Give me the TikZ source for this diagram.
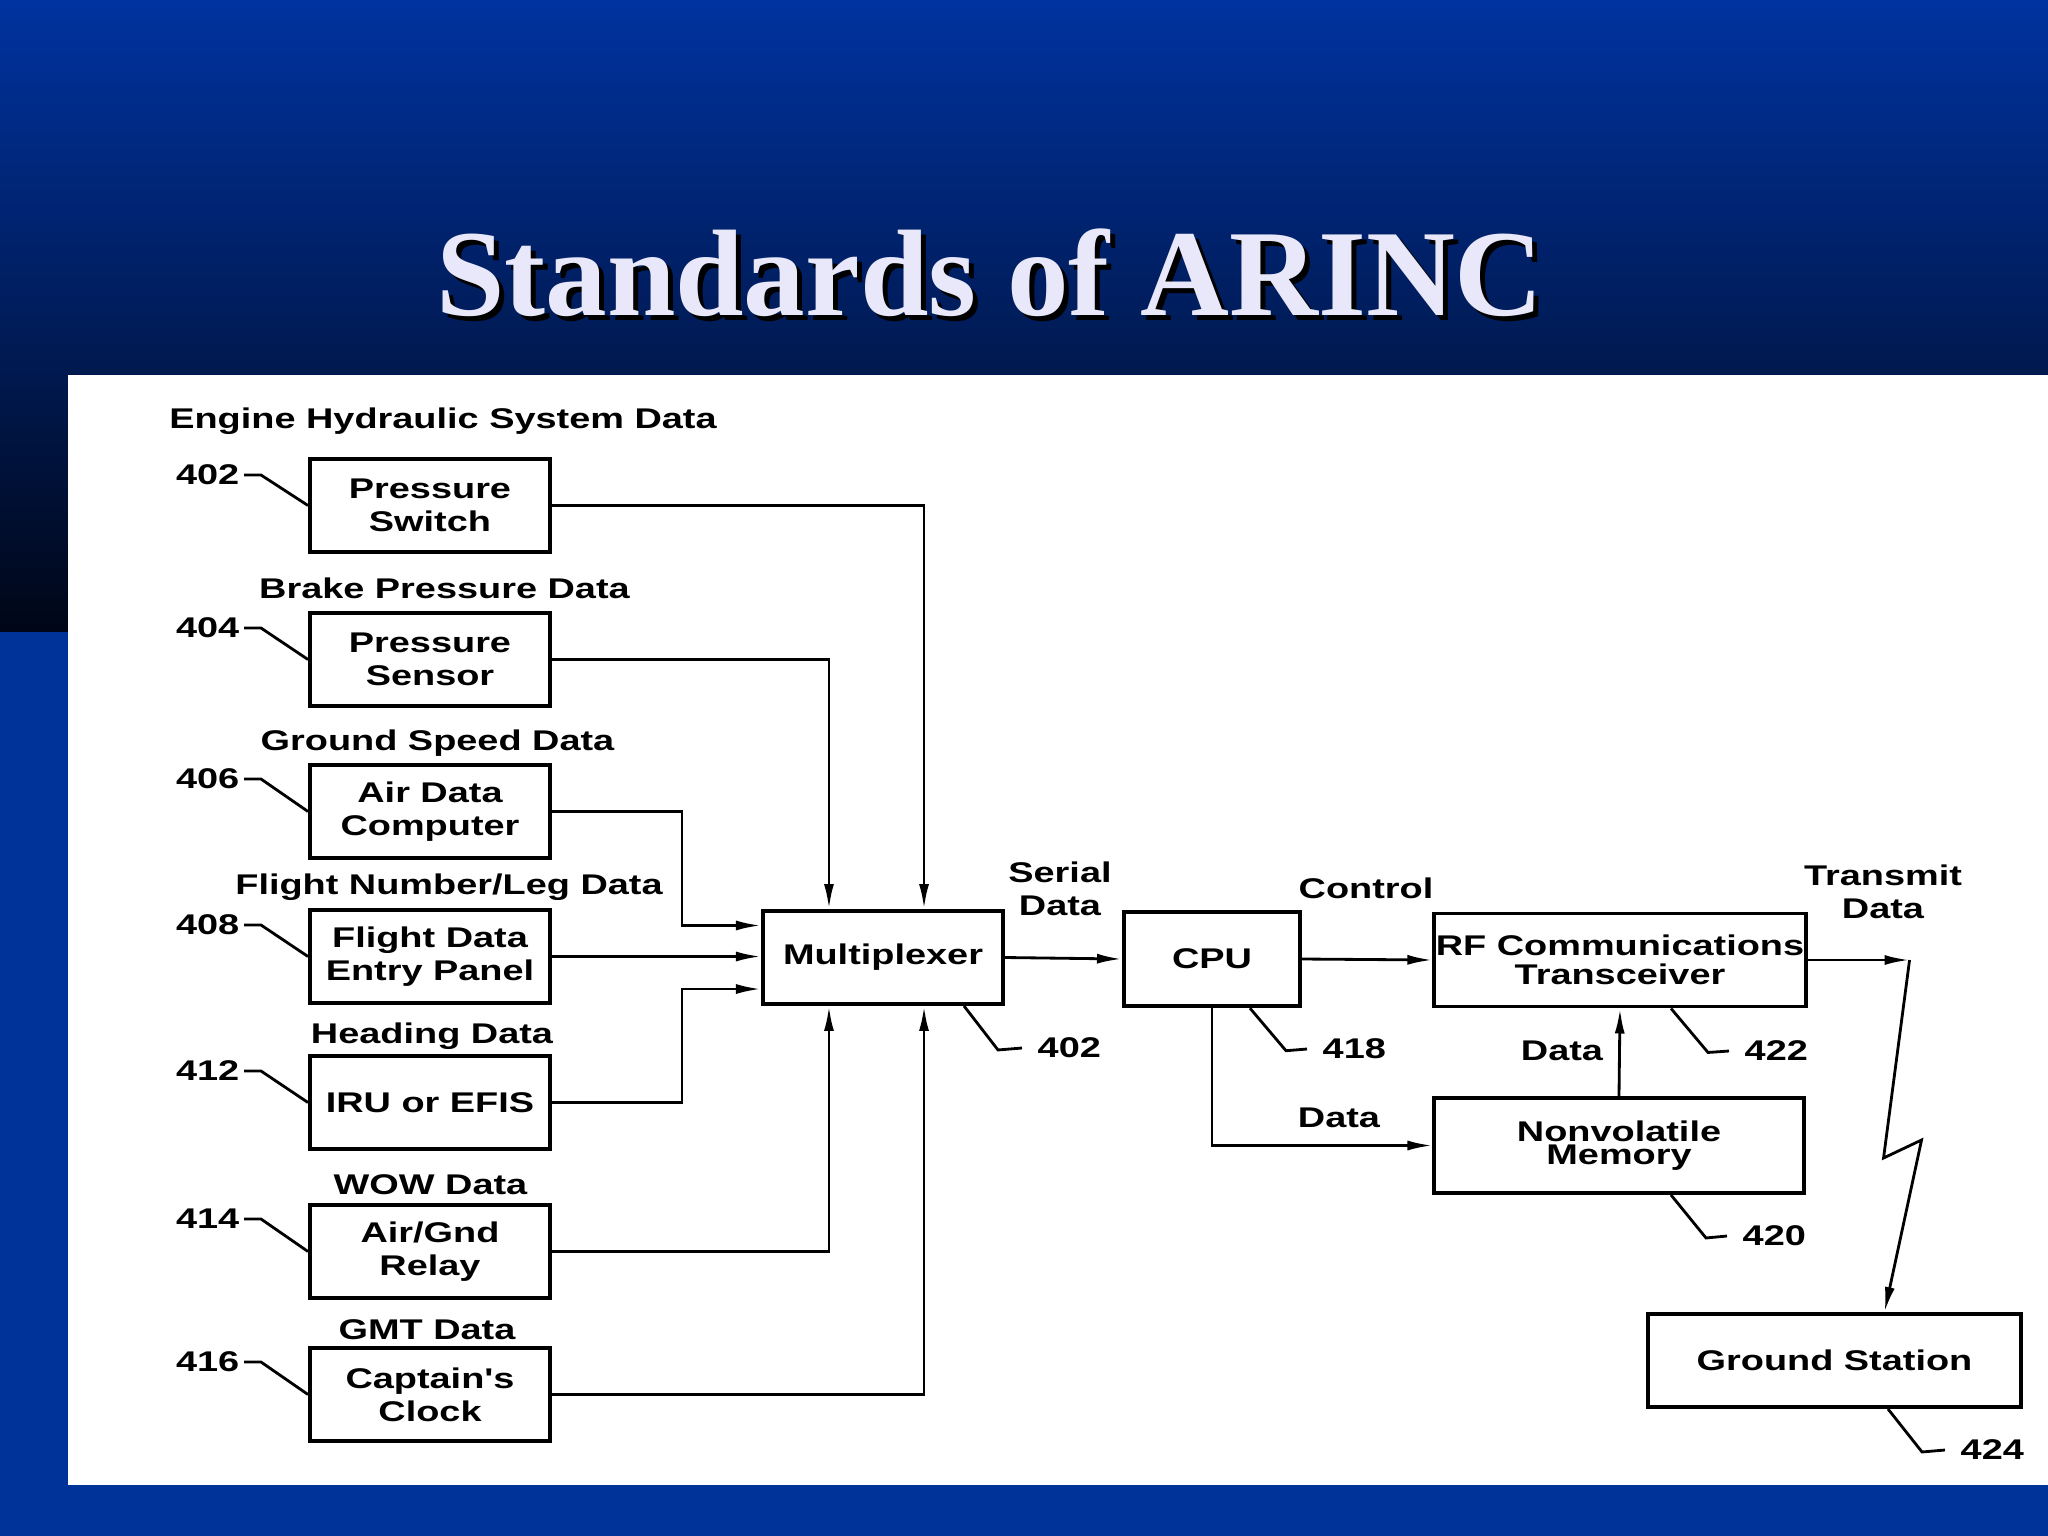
\documentclass[tikz,border=0pt]{standalone}
\usepackage{fontspec}
\setmainfont{Liberation Sans}
\newfontfamily\diafont[FakeStretch=1.33]{Liberation Sans Bold}
\newfontfamily\titlefont{Liberation Serif}
\usetikzlibrary{arrows.meta,positioning,calc}
\definecolor{slideblue}{RGB}{0,51,160}
\definecolor{deepnavy}{RGB}{0,6,22}
\definecolor{barblue}{RGB}{0,51,153}
\definecolor{titlewhite}{RGB}{232,232,250}
\begin{document}
\begin{tikzpicture}[
  x=0.01cm, y=-0.01cm,
  blk/.style={draw, line width=1.1pt, inner sep=0pt, align=center, font=\diafont\fontsize{8.1}{9.4}\selectfont, minimum height=0.93cm},
  src/.style={blk, minimum width=2.4cm},
  lbl/.style={inner sep=0pt, align=center, font=\diafont\fontsize{8.1}{9.4}\selectfont},
  refl/.style={lbl, anchor=east, inner xsep=0.04cm},
  refr/.style={lbl, anchor=west, inner xsep=0.15cm},
  lead/.style={line width=0.8pt},
  arrow/.style={-{Latex[length=0.25cm,width=0.1cm]}, line width=0.8pt}
]
\useasboundingbox (0,0) rectangle (2048,1536);
\fill[top color=slideblue, bottom color=deepnavy] (0,0) rectangle (2048,632);
\fill[barblue] (0,632) rectangle (2048,1536);
\fill[white] (68,375) rectangle (2048,1485);

\node[inner sep=0pt, font=\titlefont\bfseries\fontsize{35}{40}\selectfont, text=black] at (995,278) {Standards of ARINC};
\node[inner sep=0pt, font=\titlefont\bfseries\fontsize{35}{40}\selectfont, text=titlewhite] (title) at (990,273) {Standards of ARINC};

\node[src] (psw) at (430,505.5) {Pressure\\Switch};
\node[src] (psens) at (430,659.5) {Pressure\\Sensor};
\node[src] (adc) at (430,811.5) {Air Data\\Computer};
\node[src] (fdep) at (430,956.5) {Flight Data\\Entry Panel};
\node[src] (iru) at (430,1102.5) {IRU or EFIS};
\node[src] (agr) at (430,1251.5) {Air/Gnd\\Relay};
\node[src] (clk) at (430,1394.5) {Captain's\\Clock};

\node[lbl] (leng) at (443,421.5) {Engine Hydraulic System Data};
\node[lbl] (lbrake) at (444.5,588) {Brake Pressure Data};
\node[lbl] (lspeed) at (437.5,743) {Ground Speed Data};
\node[lbl] (lflight) at (449,887) {Flight Number/Leg Data};
\node[lbl] (lhead) at (432,1036) {Heading Data};
\node[lbl] (lwow) at (430.5,1185) {WOW Data};
\node[lbl] (lgmt) at (427,1330) {GMT Data};

\node[refl] (r402) at (244,475) {402};
\node[refl] (r404) at (244,628) {404};
\node[refl] (r406) at (244,779) {406};
\node[refl] (r408) at (244,925) {408};
\node[refl] (r412) at (244,1071) {412};
\node[refl] (r414) at (244,1219) {414};
\node[refl] (r416) at (244,1362) {416};

\node[blk, minimum width=2.4cm] (mux) at (883,957.5) {Multiplexer};
\node[blk, minimum width=1.76cm, minimum height=0.945cm] (cpu) at (1212,959) {CPU};
\node[blk, minimum width=3.71cm, font=\diafont\fontsize{8.1}{8.1}\selectfont] (rf) at (1620,960) {RF Communications\\Transceiver};
\node[blk, minimum width=3.69cm, minimum height=0.95cm, font=\diafont\fontsize{8.1}{6.7}\selectfont] (nvm) at (1619,1145.5) {Nonvolatile\\Memory};
\node[blk, minimum width=3.73cm] (gs) at (1834.5,1360.5) {Ground Station};

\node[lbl] (lserial) at (1060,889) {Serial\\Data};
\node[lbl] (lctrl) at (1366,888) {Control};
\node[lbl] (ldata1) at (1339,1118) {Data};
\node[lbl] (ldata2) at (1562,1051) {Data};
\node[lbl] (ltx) at (1883,891.5) {Transmit\\Data};

\node[refr] (r402m) at (1022,1048) {402};
\node[refr] (r418) at (1307,1049) {418};
\node[refr] (r422) at (1729,1051) {422};
\node[refr] (r420) at (1727,1236) {420};
\node[refr] (r424) at (1945,1450) {424};

\foreach \n/\b in {r402/psw,r404/psens,r406/adc,r408/fdep,r412/iru,r414/agr,r416/clk}
  \draw[lead] (\n.east) -- ++(17,0) -- (\b.west);

\draw[lead] (mux.south) ++(81,0) -- ++(34,44) -- (r402m.west);
\draw[lead] (cpu.south) ++(38,0) -- ++(36,42.5) -- (r418.west);
\draw[lead] (rf.south) ++(51,0) -- ++(37,44) -- (r422.west);
\draw[lead] (nvm.south) ++(52,0) -- ++(35,43) -- (r420.west);
\draw[lead] (gs.south) ++(53.5,0) -- ++(34,43) -- (r424.west);

\draw[arrow] (psw.east) -| ([xshift=0.41cm]mux.north);
\draw[arrow] (psens.east) -| ([xshift=-0.54cm]mux.north);
\draw[arrow] (adc.east) -- ++(130,0) |- ([yshift=0.32cm]mux.west);
\draw[arrow] (fdep.east) -- (fdep.east -| mux.west);
\draw[arrow] (iru.east) -- ++(130,0) |- ([yshift=-0.315cm]mux.west);
\draw[arrow] (agr.east) -| ([xshift=-0.54cm]mux.south);
\draw[arrow] (clk.east) -| ([xshift=0.41cm]mux.south);

\draw[arrow] (mux.east) -- (cpu.west);
\draw[arrow] (cpu.east) -- (rf.west);
\draw[arrow] (cpu.south) |- (nvm.west);
\draw[arrow] (nvm.north) -- (rf.south);

\coordinate (tx) at ($(rf.east)+(102,0)$);
\draw[arrow] (rf.east) -- (tx);
\draw[arrow] (tx) -- ++(-26,198) -- ++(38,-18) -- ([xshift=0.5cm]gs.north);
\end{tikzpicture}
\end{document}
